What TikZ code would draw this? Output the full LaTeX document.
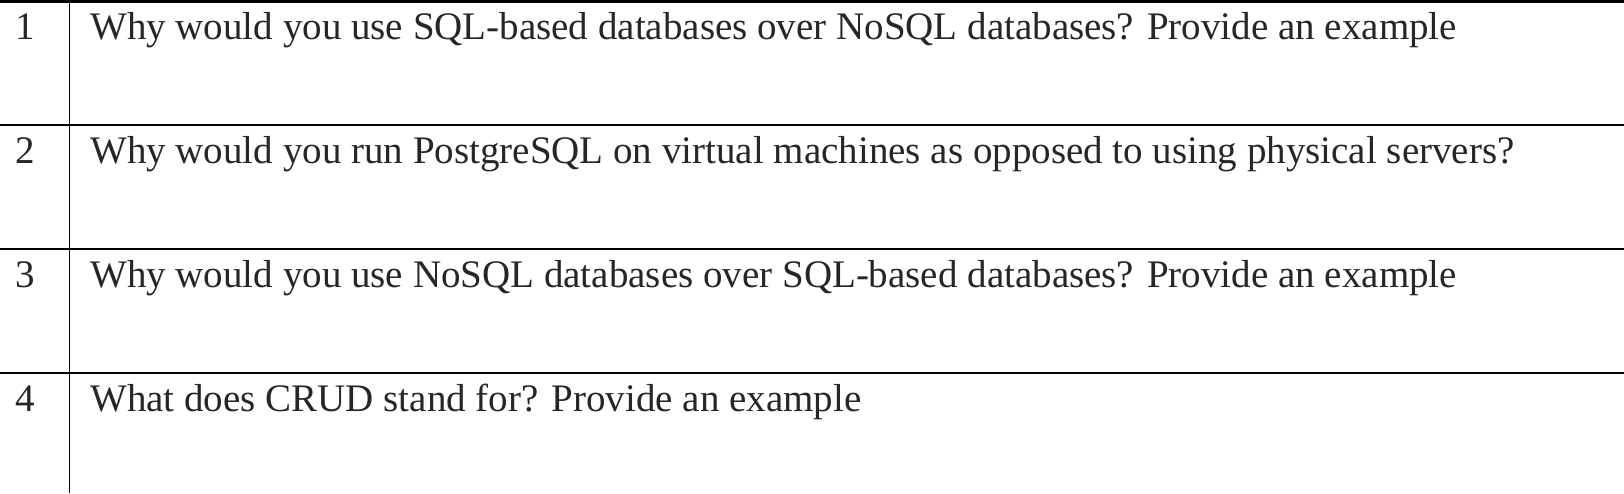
\documentclass[tikz,border=0pt]{standalone}
\usepackage{fontspec}
\setmainfont{Liberation Serif}
\begin{document}
\begin{tikzpicture}[x=1pt,y=-1pt,
  rule/.style={line width=2.2pt,black},
  txt/.style={anchor=base west,inner sep=0pt,font=\fontsize{39}{44}\selectfont,text=black!85}]
\useasboundingbox (0,0) rectangle (1624,493);
\coordinate (t0) at (0,1.5); \coordinate (t1) at (1624,1.5);
\draw[rule] (t0) -- (t1);
\foreach \y in {125,249,373}{
  \coordinate (a) at (0,\y); \coordinate (b) at (1624,\y);
  \draw[rule] (a) -- (b);}
\coordinate (v0) at (69.5,0); \coordinate (v1) at (69.5,493);
\draw[line width=1.6pt] (v0) -- (v1);
\node[txt] (n1) at (15,39) {1};
\node[txt] (q1) at (90,39) {Why would you use SQL-based databases over NoSQL databases? Provide an example};
\node[txt] (n2) at (15,163) {2};
\node[txt] (q2) at (90,163) {Why would you run PostgreSQL on virtual machines as opposed to using physical servers?};
\node[txt] (n3) at (15,287) {3};
\node[txt] (q3) at (90,287) {Why would you use NoSQL databases over SQL-based databases? Provide an example};
\node[txt] (n4) at (15,411) {4};
\node[txt] (q4) at (90,411) {What does CRUD stand for? Provide an example};
\end{tikzpicture}
\end{document}
